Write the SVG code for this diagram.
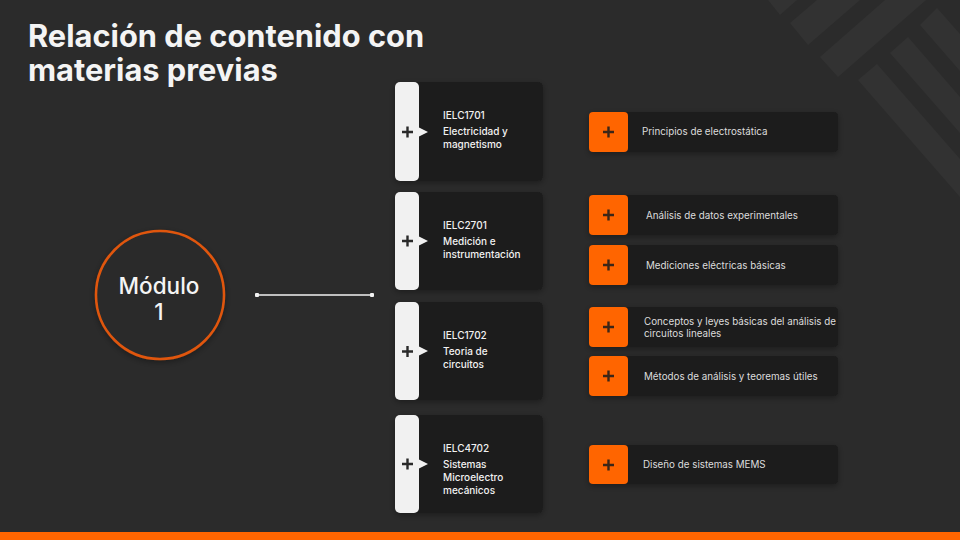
<svg xmlns="http://www.w3.org/2000/svg" width="960" height="540" viewBox="0 0 960 540">
<defs>
<style>
.title{font-family:Inter,"Liberation Sans",sans-serif;font-weight:700;font-size:30.8px;fill:#f4f4f4}
.ctext{font-family:Inter,"Liberation Sans",sans-serif;font-weight:500;font-size:10px;fill:#f2f2f2}
.rtext{font-family:Inter,"Liberation Sans",sans-serif;font-weight:400;font-size:9.8px;fill:#dcdcdc}
.mod{font-family:Inter,"Liberation Sans",sans-serif;font-weight:500;font-size:22.5px;fill:#f4f4f4}
.card{fill:#1d1d1d}
.tab{fill:#f1f1f1}
.orng{fill:#ff6500}
.plus{stroke:#2a2a2a;stroke-width:2.4;fill:none}
.plus2{stroke:#3a2618;stroke-width:2.4;fill:none}
.stripe{fill:#323232}
</style>
<filter id="sh" x="-10%" y="-10%" width="120%" height="130%">
<feDropShadow dx="0" dy="2" stdDeviation="3" flood-color="#000" flood-opacity="0.35"/>
</filter>
</defs>
<rect x="0" y="0" width="960" height="540" fill="#2b2b2b"/>
<g id="decor">
<polygon class="stripe" points="768,0 780,15 797,0"/>
<polygon class="stripe" points="790,23 808,45 860,0 817,0"/>
<polygon class="stripe" points="820,57 838,77 926,0 885,0"/>
<polygon class="stripe" points="858,80 877,64 960,159 960,197"/>
<polygon class="stripe" points="890,53 908,37 960,97 960,133"/>
<polygon class="stripe" points="920,25 937,8 960,34 960,71"/>
</g>
<text class="title" x="28" y="47">Relación de contenido con</text>
<text class="title" x="28" y="81">materias previas</text>
<rect x="0" y="532" width="960" height="8" fill="#ff6500"/>

<g id="modulo">
<circle cx="160" cy="295" r="64" fill="#2a2a2a" stroke="#e0560f" stroke-width="2.5" filter="url(#sh)"/>
<text class="mod" x="159" y="294" text-anchor="middle">Módulo</text>
<text class="mod" x="159" y="320" text-anchor="middle">1</text>
</g>

<g id="connectors">
<line x1="257" y1="295" x2="372" y2="295" stroke="#f2f2f2" stroke-width="1.5"/>
<rect x="255" y="293" width="4" height="4" rx="1" fill="#f2f2f2"/>
<rect x="370" y="293" width="4" height="4" rx="1" fill="#f2f2f2"/>
</g>

<g id="c1">
<rect class="card" x="395" y="82" width="148" height="99" rx="5" filter="url(#sh)"/>
<rect class="tab" x="395" y="82" width="24" height="99" rx="5"/>
<polygon class="tab" points="418,127 428,132 418,137"/>
<path class="plus" d="M402,132h11M407.5,126.5v11"/>
<text class="ctext" x="443" y="119">IELC1701</text>
<text class="ctext" x="443" y="134.5">Electricidad y</text>
<text class="ctext" x="443" y="147.5">magnetismo</text>
</g>
<g id="c2">
<rect class="card" x="395" y="192" width="148" height="98" rx="5" filter="url(#sh)"/>
<rect class="tab" x="395" y="192" width="24" height="98" rx="5"/>
<polygon class="tab" points="418,236 428,241 418,246"/>
<path class="plus" d="M402,241h11M407.5,235.5v11"/>
<text class="ctext" x="443" y="228.5">IELC2701</text>
<text class="ctext" x="443" y="244.5">Medición e</text>
<text class="ctext" x="443" y="257.5">instrumentación</text>
</g>
<g id="c3">
<rect class="card" x="395" y="302" width="148" height="98" rx="5" filter="url(#sh)"/>
<rect class="tab" x="395" y="302" width="24" height="98" rx="5"/>
<polygon class="tab" points="418,346 428,351 418,356"/>
<path class="plus" d="M402,351.5h11M407.5,346v11"/>
<text class="ctext" x="443" y="338.5">IELC1702</text>
<text class="ctext" x="443" y="354.5">Teoria de</text>
<text class="ctext" x="443" y="367.5">circuitos</text>
</g>
<g id="c4">
<rect class="card" x="395" y="415" width="148" height="98" rx="5" filter="url(#sh)"/>
<rect class="tab" x="395" y="415" width="24" height="98" rx="5"/>
<polygon class="tab" points="418,459 428,464 418,469"/>
<path class="plus" d="M402,464h11M407.5,458.5v11"/>
<text class="ctext" x="443" y="452">IELC4702</text>
<text class="ctext" x="443" y="467.5">Sistemas</text>
<text class="ctext" x="443" y="480.5">Microelectro</text>
<text class="ctext" x="443" y="494">mecánicos</text>
</g>

<g id="r1">
<rect class="card" x="589" y="112" width="249" height="40" rx="4" filter="url(#sh)"/>
<rect class="orng" x="589" y="112" width="39" height="40" rx="4"/>
<path class="plus2" d="M603,132h11M608.5,126.5v11"/>
<text class="rtext" x="642" y="134.5">Principios de electrostática</text>
</g>
<g id="r2">
<rect class="card" x="589" y="195" width="249" height="40" rx="4" filter="url(#sh)"/>
<rect class="orng" x="589" y="195" width="39" height="40" rx="4"/>
<path class="plus2" d="M603,215h11M608.5,209.5v11"/>
<text class="rtext" x="646" y="218.5">Análisis de datos experimentales</text>
</g>
<g id="r3">
<rect class="card" x="589" y="245" width="249" height="40" rx="4" filter="url(#sh)"/>
<rect class="orng" x="589" y="245" width="39" height="40" rx="4"/>
<path class="plus2" d="M603,265h11M608.5,259.5v11"/>
<text class="rtext" x="646" y="268.5">Mediciones eléctricas básicas</text>
</g>
<g id="r4">
<rect class="card" x="589" y="307" width="249" height="40" rx="4" filter="url(#sh)"/>
<rect class="orng" x="589" y="307" width="39" height="40" rx="4"/>
<path class="plus2" d="M603,327h11M608.5,321.5v11"/>
<text class="rtext" x="644" y="324.5">Conceptos y leyes básicas del análisis de</text>
<text class="rtext" x="644" y="336.5">circuitos lineales</text>
</g>
<g id="r5">
<rect class="card" x="589" y="356" width="249" height="40" rx="4" filter="url(#sh)"/>
<rect class="orng" x="589" y="356" width="39" height="40" rx="4"/>
<path class="plus2" d="M603,376h11M608.5,370.5v11"/>
<text class="rtext" x="644" y="379.5">Métodos de análisis y teoremas útiles</text>
</g>
<g id="r6">
<rect class="card" x="589" y="445" width="249" height="39" rx="4" filter="url(#sh)"/>
<rect class="orng" x="589" y="445" width="39" height="39" rx="4"/>
<path class="plus2" d="M603,465h11M608.5,459.5v11"/>
<text class="rtext" x="643" y="468">Diseño de sistemas MEMS</text>
</g>
</svg>
